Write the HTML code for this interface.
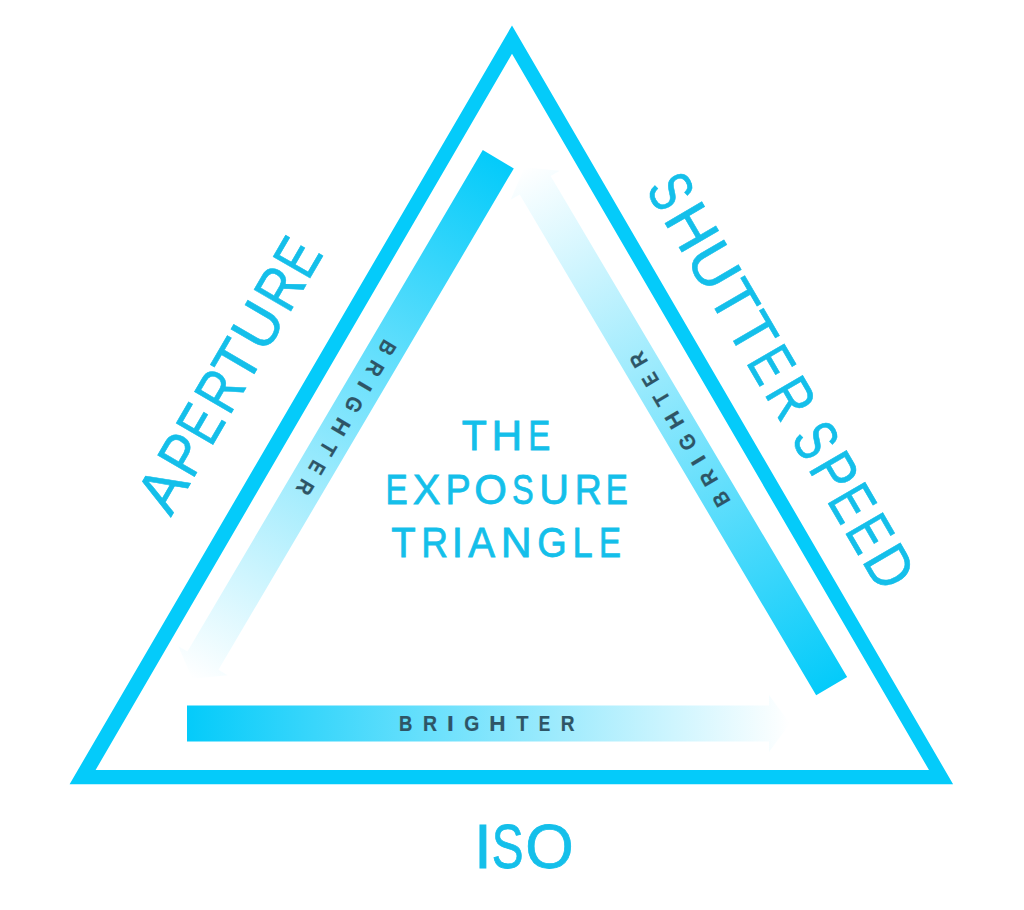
<!DOCTYPE html>
<html><head><meta charset="utf-8"><title>The Exposure Triangle</title>
<style>html,body{margin:0;padding:0;background:#fff;} svg{display:block;}</style></head>
<body><svg width="1024" height="910" viewBox="0 0 1024 910">
<defs><linearGradient id="gB" gradientUnits="userSpaceOnUse" x1="187.00" y1="723.50" x2="790.00" y2="723.50"><stop offset="0" stop-color="#04CBFA"/><stop offset="1" stop-color="#04CBFA" stop-opacity="0"/></linearGradient><linearGradient id="gL" gradientUnits="userSpaceOnUse" x1="498.30" y1="159.25" x2="192.27" y2="678.82"><stop offset="0" stop-color="#04CBFA"/><stop offset="1" stop-color="#04CBFA" stop-opacity="0"/></linearGradient><linearGradient id="gR" gradientUnits="userSpaceOnUse" x1="831.65" y1="686.10" x2="524.47" y2="167.21"><stop offset="0" stop-color="#04CBFA"/><stop offset="1" stop-color="#04CBFA" stop-opacity="0"/></linearGradient></defs>
<rect width="1024" height="910" fill="#fff"/>
<path fill="#04CBFA" fill-rule="evenodd" d="M512,25.5 L953.1,784.2 L69.6,784.2 Z M512,53.8 L929,770 L95.6,770 Z"/>
<polygon fill="url(#gB)" points="187.00,705.50 769.00,705.50 769.00,695.00 790.00,723.50 769.00,752.00 769.00,741.50 187.00,741.50"/><polygon fill="url(#gL)" points="513.81,168.39 218.44,669.86 227.49,675.19 192.27,678.82 178.37,646.26 187.42,651.59 482.79,150.11"/><polygon fill="url(#gR)" points="816.16,695.27 519.68,194.45 510.64,199.80 524.47,167.21 559.69,170.76 550.65,176.11 847.14,676.93"/>
<g font-family="Liberation Sans, sans-serif" font-size="21.8" font-weight="bold" fill="#2E5566" stroke="#2E5566" stroke-width="0.2"><text transform="translate(405.70,730.85) scale(0.8493,1)" text-anchor="middle">B</text><text transform="translate(430.00,730.85) scale(0.8922,1)" text-anchor="middle">R</text><text transform="translate(450.40,730.85) scale(1.1175,1)" text-anchor="middle">I</text><text transform="translate(471.70,730.85) scale(0.8887,1)" text-anchor="middle">G</text><text transform="translate(497.40,730.85) scale(1.0366,1)" text-anchor="middle">H</text><text transform="translate(522.40,730.85) scale(0.9189,1)" text-anchor="middle">T</text><text transform="translate(544.60,730.85) scale(0.7909,1)" text-anchor="middle">E</text><text transform="translate(567.70,730.85) scale(0.8763,1)" text-anchor="middle">R</text></g><g transform="translate(346.05,417.74) rotate(120.50)"><g font-family="Liberation Sans, sans-serif" font-size="21.8" font-weight="bold" fill="#2E5566" stroke="#2E5566" stroke-width="0.2"><text transform="translate(-81.30,7.35) scale(0.8493,1)" text-anchor="middle">B</text><text transform="translate(-57.00,7.35) scale(0.8922,1)" text-anchor="middle">R</text><text transform="translate(-36.60,7.35) scale(1.1175,1)" text-anchor="middle">I</text><text transform="translate(-15.30,7.35) scale(0.8887,1)" text-anchor="middle">G</text><text transform="translate(10.40,7.35) scale(1.0366,1)" text-anchor="middle">H</text><text transform="translate(35.40,7.35) scale(0.9189,1)" text-anchor="middle">T</text><text transform="translate(57.60,7.35) scale(0.7909,1)" text-anchor="middle">E</text><text transform="translate(80.70,7.35) scale(0.8763,1)" text-anchor="middle">R</text></g></g><g transform="translate(679.82,428.95) rotate(-120.63)"><g font-family="Liberation Sans, sans-serif" font-size="21.8" font-weight="bold" fill="#2E5566" stroke="#2E5566" stroke-width="0.2"><text transform="translate(-81.30,7.35) scale(0.8493,1)" text-anchor="middle">B</text><text transform="translate(-57.00,7.35) scale(0.8922,1)" text-anchor="middle">R</text><text transform="translate(-36.60,7.35) scale(1.1175,1)" text-anchor="middle">I</text><text transform="translate(-15.30,7.35) scale(0.8887,1)" text-anchor="middle">G</text><text transform="translate(10.40,7.35) scale(1.0366,1)" text-anchor="middle">H</text><text transform="translate(35.40,7.35) scale(0.9189,1)" text-anchor="middle">T</text><text transform="translate(57.60,7.35) scale(0.7909,1)" text-anchor="middle">E</text><text transform="translate(80.70,7.35) scale(0.8763,1)" text-anchor="middle">R</text></g></g><g font-family="Liberation Sans, sans-serif" font-size="42.6" font-weight="normal" fill="#14BFEA" stroke="#14BFEA" stroke-width="0.8"><text transform="translate(474.20,449.50) scale(0.9631,1)" text-anchor="middle">T</text><text transform="translate(506.80,449.50) scale(0.9972,1)" text-anchor="middle">H</text><text transform="translate(539.20,449.50) scale(0.7753,1)" text-anchor="middle">E</text></g><g font-family="Liberation Sans, sans-serif" font-size="42.6" font-weight="normal" fill="#14BFEA" stroke="#14BFEA" stroke-width="0.8"><text transform="translate(396.50,503.60) scale(0.7813,1)" text-anchor="middle">E</text><text transform="translate(426.60,503.60) scale(0.9726,1)" text-anchor="middle">X</text><text transform="translate(458.00,503.60) scale(0.8873,1)" text-anchor="middle">P</text><text transform="translate(490.50,503.60) scale(0.9860,1)" text-anchor="middle">O</text><text transform="translate(522.80,503.60) scale(0.7637,1)" text-anchor="middle">S</text><text transform="translate(554.10,503.60) scale(0.9684,1)" text-anchor="middle">U</text><text transform="translate(588.20,503.60) scale(0.8784,1)" text-anchor="middle">R</text><text transform="translate(616.90,503.60) scale(0.7781,1)" text-anchor="middle">E</text></g><g font-family="Liberation Sans, sans-serif" font-size="42.6" font-weight="normal" fill="#14BFEA" stroke="#14BFEA" stroke-width="0.8"><text transform="translate(403.40,557.30) scale(0.9380,1)" text-anchor="middle">T</text><text transform="translate(434.60,557.30) scale(0.8707,1)" text-anchor="middle">R</text><text transform="translate(457.50,557.30) scale(0.9587,1)" text-anchor="middle">I</text><text transform="translate(481.60,557.30) scale(0.9430,1)" text-anchor="middle">A</text><text transform="translate(516.30,557.30) scale(1.0063,1)" text-anchor="middle">N</text><text transform="translate(552.10,557.30) scale(0.8891,1)" text-anchor="middle">G</text><text transform="translate(582.60,557.30) scale(0.8540,1)" text-anchor="middle">L</text><text transform="translate(610.10,557.30) scale(0.7736,1)" text-anchor="middle">E</text></g><g font-family="Liberation Sans, sans-serif" font-size="63" font-weight="normal" fill="#14BFEA" stroke="#14BFEA" stroke-width="0.8"><text transform="translate(482.90,868.20) scale(1.0208,1)" text-anchor="middle">I</text><text transform="translate(507.70,868.20) scale(0.7568,1)" text-anchor="middle">S</text><text transform="translate(549.50,868.20) scale(0.9893,1)" text-anchor="middle">O</text></g><g transform="translate(171.15,517.7) rotate(-59.79)"><g font-family="Liberation Sans, sans-serif" font-size="62" font-weight="normal" fill="#14BFEA" stroke="#14BFEA" stroke-width="0.6"><text transform="translate(19.85,-0.50) scale(0.9614,1)" text-anchor="middle">A</text><text transform="translate(60.85,-0.50) scale(0.8709,1)" text-anchor="middle">P</text><text transform="translate(96.10,-0.50) scale(0.7661,1)" text-anchor="middle">E</text><text transform="translate(134.35,-0.50) scale(0.8012,1)" text-anchor="middle">R</text><text transform="translate(168.85,-0.50) scale(0.9612,1)" text-anchor="middle">T</text><text transform="translate(209.85,-0.50) scale(0.9504,1)" text-anchor="middle">U</text><text transform="translate(253.10,-0.50) scale(0.8333,1)" text-anchor="middle">R</text><text transform="translate(288.85,-0.50) scale(0.7720,1)" text-anchor="middle">E</text></g></g><g transform="translate(664.18,223.2) rotate(59.79)"><g font-family="Liberation Sans, sans-serif" font-size="62" font-weight="normal" fill="#14BFEA" stroke="#14BFEA" stroke-width="0.6"><text transform="translate(-24.28,-0.60) scale(0.7171,1)" text-anchor="middle">S</text><text transform="translate(17.22,-0.60) scale(0.9677,1)" text-anchor="middle">H</text><text transform="translate(61.72,-0.60) scale(0.9778,1)" text-anchor="middle">U</text><text transform="translate(102.22,-0.60) scale(0.9281,1)" text-anchor="middle">T</text><text transform="translate(139.22,-0.60) scale(0.9062,1)" text-anchor="middle">T</text><text transform="translate(175.97,-0.60) scale(0.7326,1)" text-anchor="middle">E</text><text transform="translate(214.97,-0.60) scale(0.8016,1)" text-anchor="middle">R</text><text transform="translate(263.72,-0.60) scale(0.7173,1)" text-anchor="middle">S</text><text transform="translate(300.97,-0.60) scale(0.8254,1)" text-anchor="middle">P</text><text transform="translate(336.22,-0.60) scale(0.7433,1)" text-anchor="middle">E</text><text transform="translate(371.47,-0.60) scale(0.7375,1)" text-anchor="middle">E</text><text transform="translate(410.22,-0.60) scale(0.8740,1)" text-anchor="middle">D</text></g></g>
</svg></body></html>
